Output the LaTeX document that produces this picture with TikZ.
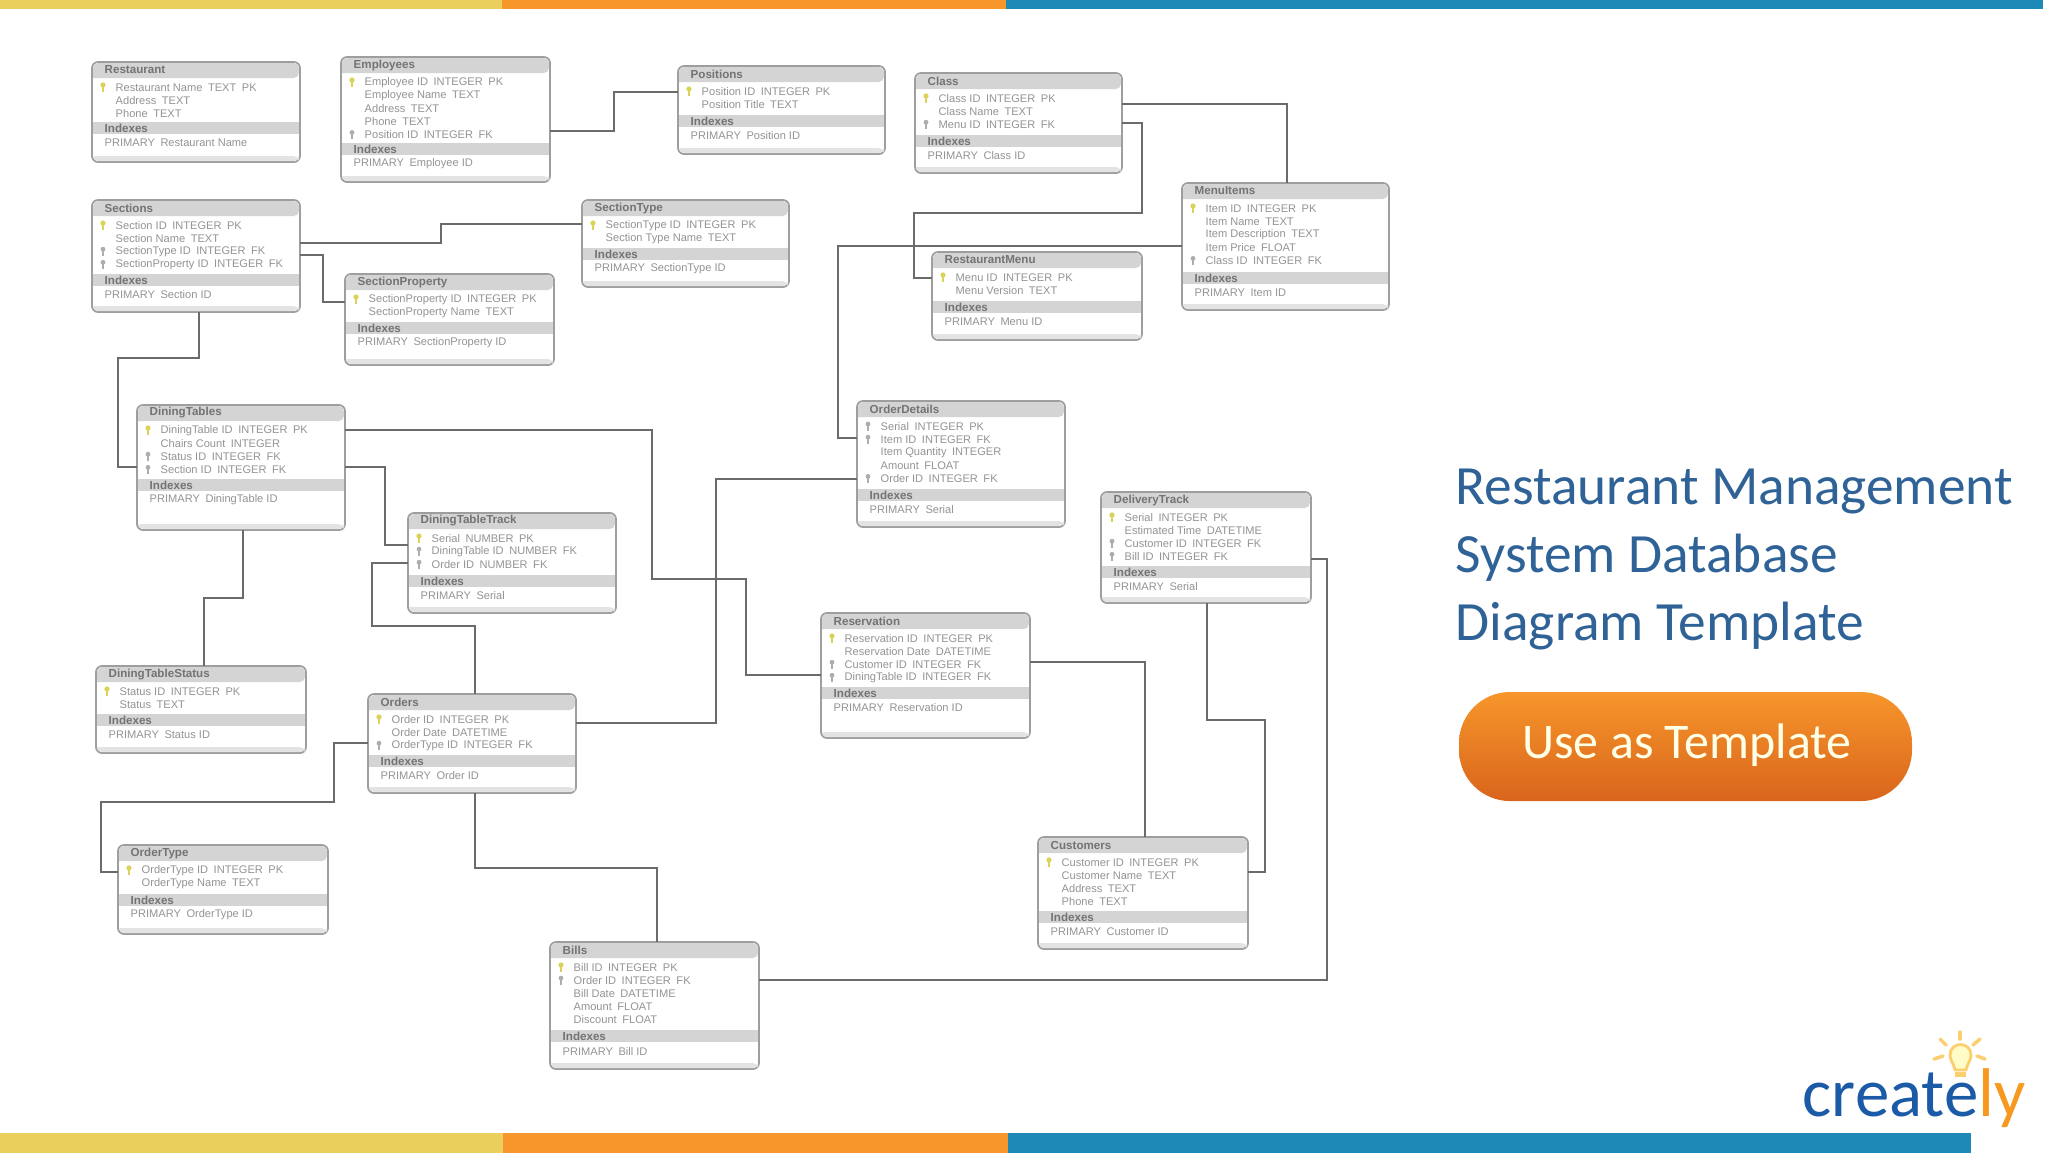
\documentclass[tikz,border=0pt]{standalone}
\usepackage{fontspec}
\setmainfont{Liberation Sans}
\newfontfamily\carlito{Carlito}
\usetikzlibrary{fit}
\definecolor{barYellow}{HTML}{EBCF5C}
\definecolor{barOrange}{HTML}{F7962B}
\definecolor{barBlue}{HTML}{1C89B6}
\definecolor{headBlue}{HTML}{2F6296}
\definecolor{logoBlue}{HTML}{1B5AA6}
\definecolor{logoOrange}{HTML}{F7981F}
\definecolor{lampYellow}{HTML}{FBCF70}
\definecolor{buttonLow}{HTML}{D9651C}
\tikzset{
table box/.style={draw=black!38,fill=white,line width=0.5pt,rounded corners=1.7pt,inner sep=0pt,outer sep=0pt},
band/.style={fill=black!17},
foot band/.style={fill=black!11},
title text/.style={font=\fontsize{3.3}{3.9}\selectfont\bfseries,text=black!55,anchor=west,inner sep=0pt},
row text/.style={font=\fontsize{3.15}{3.7}\selectfont,text=black!42,anchor=west,inner sep=0pt},
head text/.style={anchor=base west,inner sep=0pt,text=headBlue,font=\carlito\fontsize{15.75}{19}\selectfont},
rel/.style={draw=black!58,line width=0.5pt,line join=miter},
ray/.style={draw=lampYellow,line width=1pt,line cap=round}}
% name, x0, y0, x1, y1, title, y of indexes, primary, rows (kind/text)
\newcommand{\dbtable}[9]{
  \node[table box,fit={(#2,#3) (#4,#5)}] (#1) {};
  \fill[band,rounded corners=1.5pt] (#2+1,#3+16) -- (#2+1,#3+1) -- (#4-1,#3+1) -- (#4-1,#3+16) [sharp corners] -- cycle;
  \fill[band] (#2+1,#7-6) rectangle (#4-1,#7+6);
  \fill[foot band,rounded corners=1.5pt] (#2+1,#5-6) -- (#2+1,#5-1) -- (#4-1,#5-1) -- (#4-1,#5-6) [sharp corners] -- cycle;
  \node[title text] (#1-title) at (#2+12,#3+8) {#6};
  \foreach \keykind/\rowtxt [count=\i] in {#9}{
    \pgfmathsetmacro{\rowy}{#3+25.5+13.1*(\i-1)}
    \node[row text] (#1-row\i) at (#2+23,\rowy) {\rowtxt};
    \ifnum\keykind=1
      \fill[olive!55!yellow!60] (#2+11,\rowy-2.5) circle (2.6);
      \fill[olive!55!yellow!60] (#2+10.2,\rowy-1) rectangle (#2+11.8,\rowy+4.5);
    \fi
    \ifnum\keykind=2
      \fill[black!32] (#2+11,\rowy-2.5) circle (2.4);
      \fill[black!32] (#2+10.4,\rowy-1) rectangle (#2+11.6,\rowy+4.5);
    \fi
  }
  \node[title text] (#1-idx) at (#2+12,#7) {Indexes};
  \node[row text] (#1-prim) at (#2+12,#7+15) {PRIMARY\enspace #8};
}
\newcommand{\fg}{\enspace}
\begin{document}
\begin{tikzpicture}[x=0.01cm,y=-0.01cm]
  \useasboundingbox (0,0) rectangle (2048,1153);

  \fill[barYellow] (0,0) rectangle (502,9);
  \fill[barOrange] (502,0) rectangle (1006,9);
  \fill[barBlue] (1006,0) rectangle (2043,9);
  \fill[barYellow] (0,1133) rectangle (503,1153);
  \fill[barOrange] (503,1133) rectangle (1008,1153);
  \fill[barBlue] (1008,1133) rectangle (1971,1153);

  \dbtable{restaurant}{92}{62}{300}{162}{Restaurant}{128}{Restaurant Name}{1/Restaurant Name\fg TEXT\fg PK,0/Address\fg TEXT,0/Phone\fg TEXT}
  \dbtable{employees}{341}{57}{550}{182}{Employees}{149}{Employee ID}{1/Employee ID\fg INTEGER\fg PK,0/Employee Name\fg TEXT,0/Address\fg TEXT,0/Phone\fg TEXT,2/Position ID\fg INTEGER\fg FK}
  \dbtable{positions}{678}{66}{885}{154}{Positions}{121}{Position ID}{1/Position ID\fg INTEGER\fg PK,0/Position Title\fg TEXT}
  \dbtable{class}{915}{73}{1122}{173}{Class}{141}{Class ID}{1/Class ID\fg INTEGER\fg PK,0/Class Name\fg TEXT,2/Menu ID\fg INTEGER\fg FK}
  \dbtable{menuitems}{1182}{183}{1389}{310}{MenuItems}{278}{Item ID}{1/Item ID\fg INTEGER\fg PK,0/Item Name\fg TEXT,0/Item Description\fg TEXT,0/Item Price\fg FLOAT,2/Class ID\fg INTEGER\fg FK}
  \dbtable{sections}{92}{200}{300}{312}{Sections}{280}{Section ID}{1/Section ID\fg INTEGER\fg PK,0/Section Name\fg TEXT,2/SectionType ID\fg INTEGER\fg FK,2/SectionProperty ID\fg INTEGER\fg FK}
  \dbtable{sectiontype}{582}{200}{789}{287}{SectionType}{254}{SectionType ID}{1/SectionType ID\fg INTEGER\fg PK,0/Section Type Name\fg TEXT}
  \dbtable{sectionproperty}{345}{274}{554}{365}{SectionProperty}{328}{SectionProperty ID}{1/SectionProperty ID\fg INTEGER\fg PK,0/SectionProperty Name\fg TEXT}
  \dbtable{restaurantmenu}{932}{252}{1142}{340}{RestaurantMenu}{307}{Menu ID}{1/Menu ID\fg INTEGER\fg PK,0/Menu Version\fg TEXT}
  \dbtable{diningtables}{137}{405}{345}{530}{DiningTables}{485}{DiningTable ID}{1/DiningTable ID\fg INTEGER\fg PK,0/Chairs Count\fg INTEGER,2/Status ID\fg INTEGER\fg FK,2/Section ID\fg INTEGER\fg FK}
  \dbtable{orderdetails}{857}{401}{1065}{527}{OrderDetails}{495}{Serial}{2/Serial\fg INTEGER\fg PK,2/Item ID\fg INTEGER\fg FK,0/Item Quantity\fg INTEGER,0/Amount\fg FLOAT,2/Order ID\fg INTEGER\fg FK}
  \dbtable{deliverytrack}{1101}{492}{1311}{603}{DeliveryTrack}{572}{Serial}{1/Serial\fg INTEGER\fg PK,0/Estimated Time\fg DATETIME,2/Customer ID\fg INTEGER\fg FK,2/Bill ID\fg INTEGER\fg FK}
  \dbtable{diningtabletrack}{408}{513}{616}{613}{DiningTableTrack}{581}{Serial}{1/Serial\fg NUMBER\fg PK,2/DiningTable ID\fg NUMBER\fg FK,2/Order ID\fg NUMBER\fg FK}
  \dbtable{reservation}{821}{613}{1030}{738}{Reservation}{693}{Reservation ID}{1/Reservation ID\fg INTEGER\fg PK,0/Reservation Date\fg DATETIME,2/Customer ID\fg INTEGER\fg FK,2/DiningTable ID\fg INTEGER\fg FK}
  \dbtable{diningstatus}{96}{666}{306}{753}{DiningTableStatus}{720}{Status ID}{1/Status ID\fg INTEGER\fg PK,0/Status\fg TEXT}
  \dbtable{orders}{368}{694}{576}{793}{Orders}{761}{Order ID}{1/Order ID\fg INTEGER\fg PK,0/Order Date\fg DATETIME,2/OrderType ID\fg INTEGER\fg FK}
  \dbtable{ordertype}{118}{845}{328}{934}{OrderType}{900}{OrderType ID}{1/OrderType ID\fg INTEGER\fg PK,0/OrderType Name\fg TEXT}
  \dbtable{bills}{550}{942}{759}{1069}{Bills}{1036}{Bill ID}{1/Bill ID\fg INTEGER\fg PK,2/Order ID\fg INTEGER\fg FK,0/Bill Date\fg DATETIME,0/Amount\fg FLOAT,0/Discount\fg FLOAT}
  \dbtable{customers}{1038}{837}{1248}{949}{Customers}{917}{Customer ID}{1/Customer ID\fg INTEGER\fg PK,0/Customer Name\fg TEXT,0/Address\fg TEXT,0/Phone\fg TEXT}

  \draw[rel] (employees.east |- 0,131) -- (614,131) -- (614,92) -- (positions.west |- 0,92);
  \draw[rel] (sections.east |- 0,243) -- (441,243) -- (441,224) -- (sectiontype.west |- 0,224);
  \draw[rel] (sections.east |- 0,255) -- (323,255) -- (323,302) -- (sectionproperty.west |- 0,302);
  \draw[rel] (sections.south -| 199,0) -- (199,358) -- (118,358) -- (118,467) -- (diningtables.west |- 0,467);
  \draw[rel] (diningtables.east |- 0,430) -- (652,430) -- (652,579) -- (746,579) -- (746,675) -- (reservation.west |- 0,675);
  \draw[rel] (diningtables.east |- 0,467) -- (385,467) -- (385,545) -- (diningtabletrack.west |- 0,545);
  \draw[rel] (diningtables.south -| 243,0) -- (243,598) -- (204,598) -- (diningstatus.north -| 204,0);
  \draw[rel] (diningtabletrack.west |- 0,563) -- (372,563) -- (372,626) -- (475,626) -- (orders.north -| 475,0);
  \draw[rel] (orders.east |- 0,723) -- (716,723) -- (716,479) -- (orderdetails.west |- 0,479);
  \draw[rel] (orders.west |- 0,743) -- (334,743) -- (334,802) -- (101,802) -- (101,872) -- (ordertype.west |- 0,872);
  \draw[rel] (orders.south -| 475,0) -- (475,868) -- (657,868) -- (bills.north -| 657,0);
  \draw[rel] (orderdetails.west |- 0,438) -- (838,438) -- (838,246) -- (menuitems.west |- 0,246);
  \draw[rel] (class.east |- 0,104) -- (1287,104) -- (menuitems.north -| 1287,0);
  \draw[rel] (class.east |- 0,123) -- (1142,123) -- (1142,213) -- (914,213) -- (914,278) -- (restaurantmenu.west |- 0,278);
  \draw[rel] (reservation.east |- 0,662) -- (1145,662) -- (customers.north -| 1145,0);
  \draw[rel] (deliverytrack.south -| 1207,0) -- (1207,720) -- (1265,720) -- (1265,872) -- (customers.east |- 0,872);
  \draw[rel] (deliverytrack.east |- 0,559) -- (1327,559) -- (1327,980) -- (bills.east |- 0,980);

  \node[head text] (head1) at (1455,504) {Restaurant Management};
  \node[head text] (head2) at (1455,572) {System Database};
  \node[head text] (head3) at (1455,640) {Diagram Template};

  \node[fit={(1459,692) (1912,801)},inner sep=0pt,rounded corners=14.5pt,top color=barOrange,bottom color=buttonLow] (button) {};
  \node[text=white!90!yellow,font=\carlito\fontsize{14.2}{17}\selectfont] (buttontext) at (1687,745) {Use as Template};

  \node[anchor=base west,inner sep=0pt,font=\carlito\fontsize{19.6}{24}\selectfont,text=logoBlue] (logo) at (1802,1116) {create\textcolor{logoOrange}{ly}};
  \draw[draw=lampYellow,fill=yellow!22,line width=0.8pt] (1955,1070) .. controls (1953,1062) and (1950,1060) .. (1950,1055) .. controls (1950,1041) and (1971,1041) .. (1971,1055) .. controls (1971,1060) and (1968,1062) .. (1966,1070) -- cycle;
  \fill[lampYellow] (1955,1072) rectangle (1966,1077);
  \draw[ray] (1960,1032) -- (1960,1039);
  \draw[ray] (1940,1039) -- (1946,1045);
  \draw[ray] (1980,1039) -- (1973,1045);
  \draw[ray] (1934,1059) -- (1943,1056);
  \draw[ray] (1985,1059) -- (1977,1056);
\end{tikzpicture}
\end{document}
